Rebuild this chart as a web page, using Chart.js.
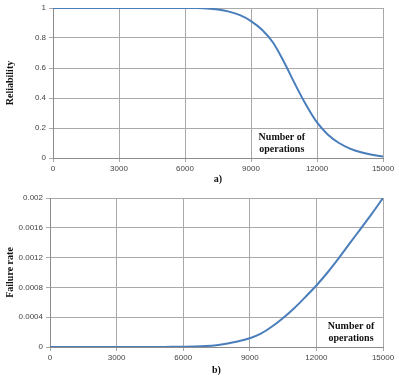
<!DOCTYPE html>
<html>
<head>
<meta charset="utf-8">
<script src="https://cdn.jsdelivr.net/npm/chart.js@4.4.1/dist/chart.umd.min.js"></script>
<style>
html, body { margin: 0; padding: 0; background: #fff; }
.box { position: absolute; left: 0; width: 399px; height: 190px; }
#boxA { top: 0; }
#boxB { top: 190px; }
</style>
</head>
<body>
<div class="box" id="boxA"><canvas id="chartA"></canvas></div>
<div class="box" id="boxB"><canvas id="chartB"></canvas></div>
<script>
var operations = [0, 500, 1000, 1500, 2000, 2500, 3000, 3500, 4000, 4500, 5000, 5500, 6000, 6500, 7000, 7500,
    8000, 8500, 9000, 9500, 10000, 10500, 11000, 11500, 12000, 12500, 13000, 13500, 14000, 14500, 15000];
var reliability = [1, 1, 1, 1, 1, 1, 1, 1, 1, 1, 1, 1, 1, 0.9995, 0.997, 0.99,
    0.976, 0.952, 0.913, 0.855, 0.77, 0.64, 0.493, 0.355, 0.237, 0.155, 0.1, 0.063, 0.038, 0.021, 0.01];
var failureRate = [0, 0, 0, 0, 0, 0, 0, 0, 0, 0, 0.000001, 0.000002, 0.000004, 0.000007, 0.000013, 0.000025,
    0.000048, 0.000078, 0.000118, 0.00018, 0.000275, 0.00039, 0.00052, 0.00067, 0.000825, 0.001, 0.00119, 0.00139, 0.00159, 0.00179, 0.002];

var xTicks = ['0', '3000', '6000', '9000', '12000', '15000'];
var yTicksA = ['0', '0.2', '0.4', '0.6', '0.8', '1'];
var yTicksB = ['0', '0.0004', '0.0008', '0.0012', '0.0016', '0.002'];
var noteLines = ['Number of', 'operations'];

var lineColor = '#4a7ebb';
var gridColor = '#a9a9a9';
var tickColor = '#444';
var serif = '"Liberation Serif", "Times New Roman", serif';

// writes "Number of operations" inside the plot, anchored on data values
var notePlugin = {
    id: 'note',
    afterDatasetsDraw: function(chart, args, opts) {
        var ctx = chart.ctx;
        var x = chart.scales.x.getPixelForValue(opts.x);
        ctx.save();
        ctx.font = 'bold 10px ' + serif;
        ctx.fillStyle = '#111';
        ctx.textAlign = 'center';
        ctx.textBaseline = 'middle';
        noteLines.forEach(function(t, i) {
            ctx.fillText(t, x, chart.scales.y.getPixelForValue(opts.y[i]));
        });
        ctx.restore();
    }
};

function points(ys) {
    return operations.map(function(x, i) { return {x: x, y: ys[i]}; });
}

function buildChart(id, ys, yMax, yStep, yLabels, yTitle, xTitle, yWidth, xHeight, titlePad, note) {
    return new Chart(document.getElementById(id), {
        type: 'line',
        data: {
            datasets: [{
                data: points(ys),
                borderColor: lineColor,
                borderWidth: 2,
                pointRadius: 0,
                cubicInterpolationMode: 'monotone',
                fill: false
            }]
        },
        plugins: [notePlugin],
        options: {
            responsive: true,
            maintainAspectRatio: false,
            animation: false,
            devicePixelRatio: 1,
            layout: { padding: { top: 8, right: 16, left: 0, bottom: 0 } },
            plugins: {
                legend: { display: false },
                tooltip: { enabled: false },
                note: note
            },
            scales: {
                x: {
                    type: 'linear',
                    min: 0,
                    max: 15000,
                    ticks: {
                        stepSize: 3000,
                        autoSkip: false,
                        maxRotation: 0,
                        padding: 2,
                        color: tickColor,
                        font: { family: 'Arial, "Liberation Sans", sans-serif', size: 8 },
                        callback: function(v, i) { return xTicks[i]; }
                    },
                    grid: { color: gridColor, tickLength: 4 },
                    border: { color: '#8c8c8c' },
                    title: {
                        display: true,
                        text: xTitle,
                        color: '#111',
                        font: { family: serif, size: 10, weight: 'bold' },
                        padding: { top: 0, bottom: titlePad }
                    },
                    afterFit: function(s) { s.height = xHeight; }
                },
                y: {
                    min: 0,
                    max: yMax,
                    ticks: {
                        stepSize: yStep,
                        padding: 3,
                        color: tickColor,
                        font: { family: 'Arial, "Liberation Sans", sans-serif', size: 8 },
                        callback: function(v, i) { return yLabels[i]; }
                    },
                    grid: { color: gridColor, tickLength: 4 },
                    border: { color: '#8c8c8c' },
                    title: {
                        display: true,
                        text: yTitle,
                        color: '#111',
                        font: { family: serif, size: 10, weight: 'bold' },
                        padding: { top: 4, bottom: 0 }
                    },
                    afterFit: function(s) { s.width = yWidth; }
                }
            }
        }
    });
}

buildChart('chartA', reliability, 1, 0.2, yTicksA, 'Reliability', 'a)', 53, 32, 5,
    { x: 10400, y: [0.137, 0.055] });
buildChart('chartB', failureRate, 0.002, 0.0004, yTicksB, 'Failure rate', 'b)', 50, 33, 4,
    { x: 13560, y: [0.000275, 0.000111] });
</script>
</body>
</html>
